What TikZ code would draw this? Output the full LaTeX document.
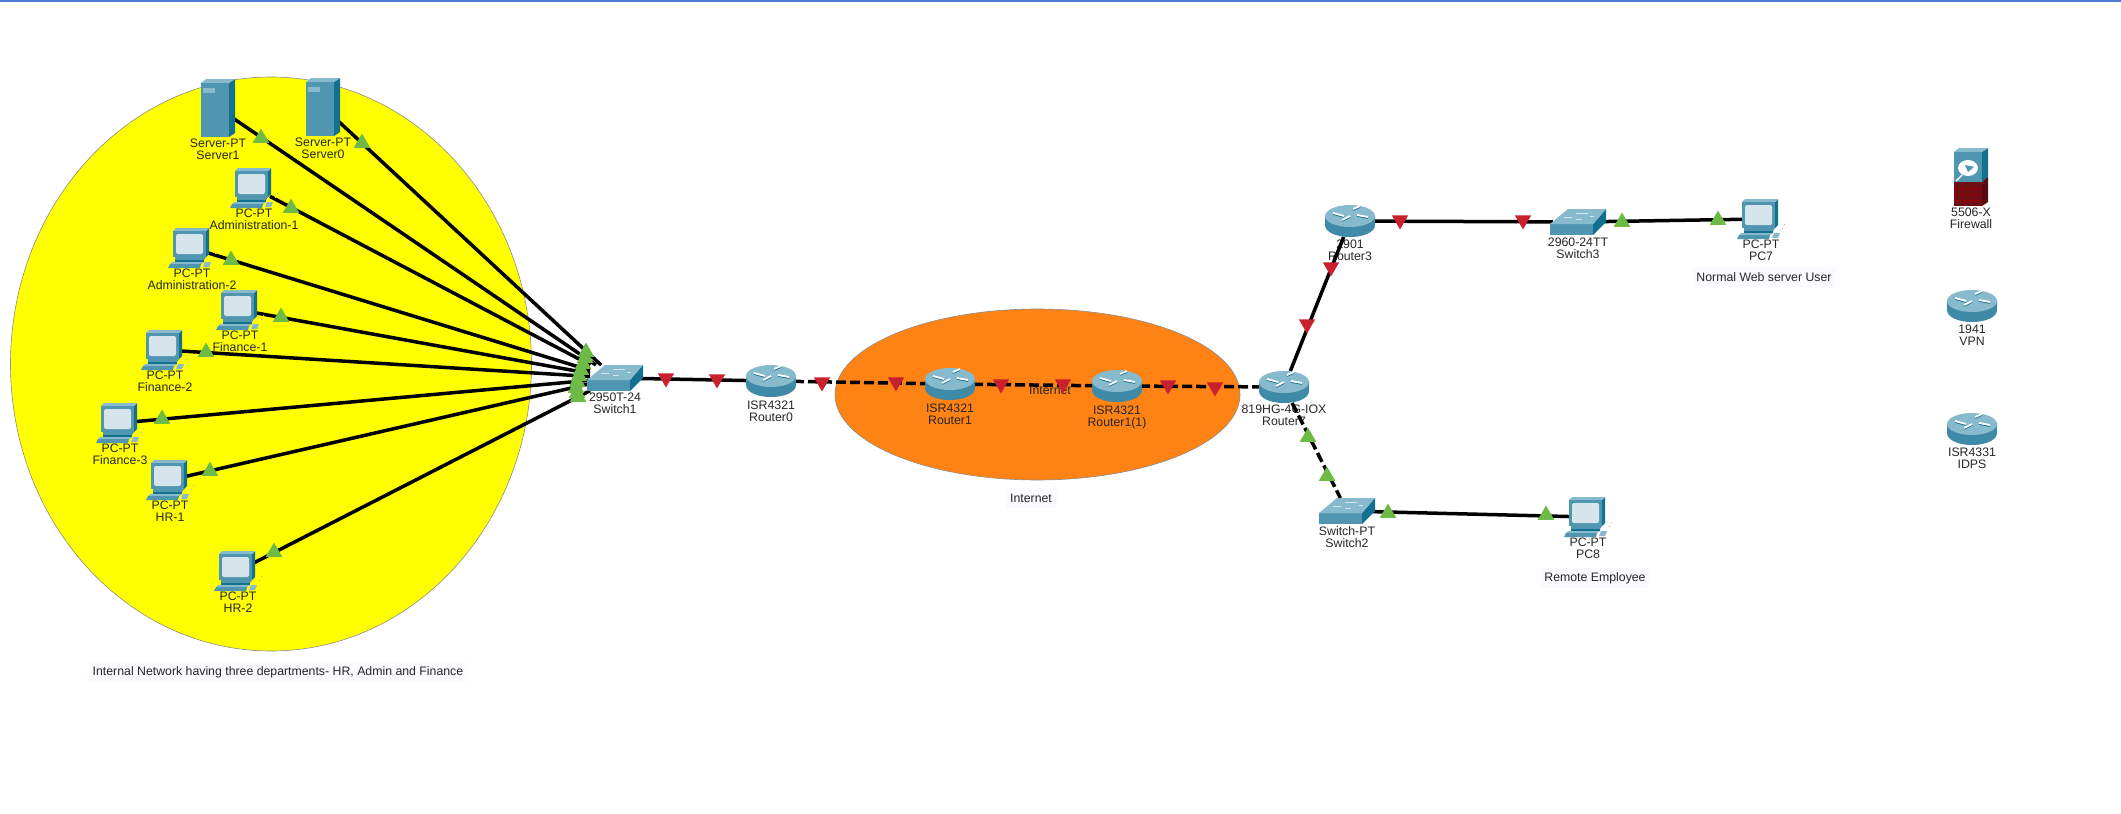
\documentclass[tikz,border=0pt]{standalone}
\usepackage{fontspec}
\setmainfont{Liberation Sans}
\usetikzlibrary{positioning, shapes.geometric}
\definecolor{zoneyellow}{HTML}{FFFF00}
\definecolor{zoneorange}{HTML}{FF8214}
\definecolor{tealface}{HTML}{5196B0}
\definecolor{tealside}{HTML}{14708F}
\definecolor{tealtop}{HTML}{86BACC}
\definecolor{tealedge}{HTML}{3F8AA6}
\definecolor{screenblue}{HTML}{D6E4EB}
\definecolor{linkgreen}{HTML}{6DBB45}
\definecolor{linkred}{HTML}{C9202F}
\definecolor{brickred}{HTML}{6E0E14}
\definecolor{topline}{HTML}{4A7BD0}
\tikzset{every picture/.style={line width=3.5pt}}
\tikzset{
  pcbox/.style={inner sep=0pt,outer sep=0pt,minimum width=32pt,minimum height=39pt},
  routerbox/.style={inner sep=0pt,outer sep=0pt,minimum width=46pt,minimum height=32pt},
  switchbox/.style={inner sep=0pt,outer sep=0pt,minimum width=50pt,minimum height=26pt},
  serverbox/.style={inner sep=0pt,outer sep=0pt,minimum width=30pt,minimum height=58pt},
  devlabel/.style={inner sep=0pt,align=center,text=black!85,font=\fontsize{12.3}{12}\selectfont},
  notebox/.style={fill=blue!2,inner sep=0pt,minimum height=20pt,text=black!85,font=\fontsize{12.3}{12}\selectfont},
  zone/.style={draw=black!45,line width=0.6pt,ellipse,inner sep=0pt},
  wire/.style={draw=black},
  dashwire/.style={draw=black,dash pattern=on 10pt off 4pt},
  greenmark/.style={regular polygon,regular polygon sides=3,fill=linkgreen,inner sep=0pt,minimum size=19pt},
  redmark/.style={regular polygon,regular polygon sides=3,shape border rotate=180,fill=linkred,inner sep=0pt,minimum size=19pt},
  pcicon/.pic={
    \fill[tealside] (14,-17) -- (17,-20) -- (17,6) -- (14,9) -- cycle;
    \fill[tealtop] (-19,-17) -- (-16,-20) -- (17,-20) -- (14,-17) -- cycle;
    \fill[tealface] (-19,-17) rectangle (14,9);
    \fill[screenblue,rounded corners=2pt] (-16,-14) rectangle (11,6);
    \fill[tealface] (-17,9) -- (14,9) -- (12,12) -- (-17,12) -- cycle;
    \fill[tealside] (-17,12) rectangle (12,14);
    \fill[tealtop] (-20,14) -- (12,14) -- (9,16) -- (-22,16) -- cycle;
    \fill[tealface] (-24,20) -- (-22,16) -- (9,16) -- (8,20) -- cycle;
    \fill[tealtop] (13,14) -- (19,14) -- (17,19) -- (11,19) -- cycle;
    \fill[black!25] (21,9) rectangle (22,10) (23,5) rectangle (24,6);
  },
  routericon/.pic={
    \shade[left color=tealedge,middle color=white,right color=tealedge]
      (-25,-6) -- (-25,4) .. controls (-25,11) and (-14,16) .. (0,16) .. controls (14,16) and (25,11) .. (25,4) -- (25,-6) -- cycle;
    \fill[tealtop] (0,-5) ellipse [x radius=25,y radius=11];
    \draw[tealside,line width=1.6pt] (-17,-7) -- (-6,-4) (3,-11) -- (10,-14) (-8,0) -- (0,-4) (7,-5) -- (18,-3);
    \draw[white,line width=1.8pt] (-17,-8) -- (-6,-5) (3,-12) -- (10,-15) (-8,-1) -- (0,-5) (7,-6) -- (18,-4);
  },
  switchicon/.pic={
    \fill[tealface] (-28,2) rectangle (15,13);
    \fill[tealside] (15,2) -- (28,-13) -- (28,0) -- (15,13) -- cycle;
    \fill[tealtop] (-28,2) -- (-10,-13) -- (28,-13) -- (15,2) -- cycle;
    \draw[screenblue,line width=1pt] (-14,-5) -- (-6,-5) (-2,-9) -- (10,-9) (-2,-3) -- (4,-3) (12,-6) -- (16,-6);
  },
  servericon/.pic={
    \fill[tealside] (11,-25) -- (17,-29) -- (17,25) -- (11,29) -- cycle;
    \fill[tealtop] (-17,-25) -- (-12,-29) -- (17,-29) -- (11,-25) -- cycle;
    \fill[tealface] (-17,-25) rectangle (11,29);
    \fill[tealtop] (-15,-20) rectangle (-3,-15);
  },
  firewallicon/.pic={
    \fill[tealside] (11,-25) -- (17,-29) -- (17,0) -- (11,5) -- cycle;
    \fill[brickred!80!black] (11,5) -- (17,0) -- (17,25) -- (11,29) -- cycle;
    \fill[tealtop] (-17,-25) -- (-12,-29) -- (17,-29) -- (11,-25) -- cycle;
    \fill[tealface] (-17,-25) rectangle (11,5);
    \fill[brickred] (-17,5) rectangle (11,29);
    \draw[red!60!black,line width=0.8pt] (-17,11) -- (11,11) (-17,17) -- (11,17) (-17,23) -- (11,23);
    \fill[white] (-3,-9) ellipse [x radius=10,y radius=8];
    \fill[tealface] (-6,-12) -- (3,-10) -- (-3,-5) -- cycle;
    \draw[white,line width=1.4pt] (-9,-2) -- (-15,4);
  }
}

\begin{document}
\begin{tikzpicture}[x=1pt,y=-1pt]
  \useasboundingbox (0,0) rectangle (2121,814);
  \fill[topline] (0,0) rectangle (2121,1.5);
  \node[zone,fill=zoneyellow,minimum width=521pt,minimum height=574pt] (internal) at (271,364) {};
  \node[zone,fill=zoneorange,minimum width=405pt,minimum height=171pt] (cloud) at (1037.5,394.5) {};

  \node[serverbox] (server1) at (218,108) {};
  \node[serverbox] (server0) at (323,107) {};
  \node[pcbox] (admin1) at (254,188) {};
  \node[pcbox] (admin2) at (192,248) {};
  \node[pcbox] (fin1) at (240,310) {};
  \node[pcbox] (fin2) at (165,350) {};
  \node[pcbox] (fin3) at (120,423) {};
  \node[pcbox] (hr1) at (170,480) {};
  \node[pcbox] (hr2) at (238,571) {};
  \node[switchbox] (switch1) at (615,378) {};
  \node[routerbox] (router0) at (771,381) {};
  \node[routerbox] (router1) at (950,384) {};
  \node[routerbox] (router11) at (1117,386) {};
  \node[routerbox] (router7) at (1284,387) {};
  \node[routerbox] (router3) at (1350,221) {};
  \node[switchbox] (switch3) at (1578,222) {};
  \node[pcbox] (pc7) at (1761,219) {};
  \node[switchbox] (switch2) at (1347,511) {};
  \node[pcbox] (pc8) at (1588,517) {};
  \node[serverbox] (firewall) at (1971,177) {};
  \node[routerbox] (vpn) at (1972,306) {};
  \node[routerbox] (idps) at (1972,429) {};

  \node[devlabel,below=0pt of server1] (server1 text) {Server-PT\\Server1};
  \node[devlabel,below=0pt of server0] (server0 text) {Server-PT\\Server0};
  \node[devlabel,below=0pt of admin1] (admin1 text) {PC-PT\\Administration-1};
  \node[devlabel,below=0pt of admin2] (admin2 text) {PC-PT\\Administration-2};
  \node[devlabel,below=0pt of fin1] (fin1 text) {PC-PT\\Finance-1};
  \node[devlabel,below=0pt of fin2] (fin2 text) {PC-PT\\Finance-2};
  \node[devlabel,below=0pt of fin3] (fin3 text) {PC-PT\\Finance-3};
  \node[devlabel,below=0pt of hr1] (hr1 text) {PC-PT\\HR-1};
  \node[devlabel,below=0pt of hr2] (hr2 text) {PC-PT\\HR-2};
  \node[devlabel,below=0pt of switch1] (switch1 text) {2950T-24\\Switch1};
  \node[devlabel,below=2pt of router0] (router0 text) {ISR4321\\Router0};
  \node[devlabel,below=2pt of router1] (router1 text) {ISR4321\\Router1};
  \node[devlabel,below=2pt of router11] (router11 text) {ISR4321\\Router1(1)};
  \node[devlabel,below=0pt of router7] (router7 text) {819HG-4G-IOX\\Router7};
  \node[devlabel,below=1pt of router3] (router3 text) {2901\\Router3};
  \node[devlabel,below=1pt of switch3] (switch3 text) {2960-24TT\\Switch3};
  \node[devlabel,below=0pt of pc7] (pc7 text) {PC-PT\\PC7};
  \node[devlabel,below=1pt of switch2] (switch2 text) {Switch-PT\\Switch2};
  \node[devlabel,below=0pt of pc8] (pc8 text) {PC-PT\\PC8};
  \node[devlabel,below=0pt of firewall] (firewall text) {5506-X\\Firewall};
  \node[devlabel,below=1pt of vpn] (vpn text) {1941\\VPN};
  \node[devlabel,below=1pt of idps] (idps text) {ISR4331\\IDPS};
  \node[devlabel] (cloud text) at (1050,390) {Internet};
  \node[notebox,minimum width=51pt] (cloud note) at (1031,498) {Internet};
  \node[notebox,minimum width=379pt] (internal note) at (278,672) {Internal Network having three departments- HR, Admin and Finance};
  \node[notebox,minimum width=143pt] (web note) at (1764,277) {Normal Web server User};
  \node[notebox,minimum width=108pt] (remote note) at (1595,578) {Remote Employee};

  \draw[wire] (server1) -- (switch1);
  \draw[wire] (server0) -- (switch1);
  \draw[wire] (admin1) -- (switch1);
  \draw[wire] (admin2) -- (switch1);
  \draw[wire] (fin1) -- (switch1);
  \draw[wire] (fin2) -- (switch1);
  \draw[wire] (fin3) -- (switch1);
  \draw[wire] (hr1) -- (switch1);
  \draw[wire] (hr2) -- (switch1);
  \draw[wire] (switch1) -- (router0);
  \draw[dashwire] (router0) -- (router1);
  \draw[dashwire] (router1) -- (router11);
  \draw[dashwire] (router11) -- (router7);
  \draw[wire] (router7) -- (router3);
  \draw[wire] (router3) -- (switch3);
  \draw[wire] (switch3) -- (pc7);
  \draw[dashwire] (router7) -- (switch2);
  \draw[wire] (switch2) -- (pc8);

  \pic at (server1) {servericon};
  \pic at (server0) {servericon};
  \pic at (admin1) {pcicon};
  \pic at (admin2) {pcicon};
  \pic at (fin1) {pcicon};
  \pic at (fin2) {pcicon};
  \pic at (fin3) {pcicon};
  \pic at (hr1) {pcicon};
  \pic at (hr2) {pcicon};
  \pic at (switch1) {switchicon};
  \pic at (router0) {routericon};
  \pic at (router1) {routericon};
  \pic at (router11) {routericon};
  \pic at (router7) {routericon};
  \pic at (router3) {routericon};
  \pic at (switch3) {switchicon};
  \pic at (pc7) {pcicon};
  \pic at (switch2) {switchicon};
  \pic at (pc8) {pcicon};
  \pic at (firewall) {firewallicon};
  \pic at (vpn) {routericon};
  \pic at (idps) {routericon};

  \node[greenmark] (up1) at (261,138) {};
  \node[greenmark] (up2) at (362,143) {};
  \node[greenmark] (up3) at (291,208) {};
  \node[greenmark] (up4) at (231,260) {};
  \node[greenmark] (up5) at (281,317) {};
  \node[greenmark] (up6) at (206,352) {};
  \node[greenmark] (up7) at (162,419) {};
  \node[greenmark] (up8) at (210,471) {};
  \node[greenmark] (up9) at (274,552) {};
  \node[greenmark] (up10) at (586,352) {};
  \node[greenmark] (up11) at (585,358) {};
  \node[greenmark] (up12) at (583,364) {};
  \node[greenmark] (up13) at (581,370) {};
  \node[greenmark] (up14) at (579,376) {};
  \node[greenmark] (up15) at (577,382) {};
  \node[greenmark] (up16) at (576,388) {};
  \node[greenmark] (up17) at (577,393) {};
  \node[greenmark] (up18) at (578,397) {};
  \node[greenmark] (up19) at (1622,222) {};
  \node[greenmark] (up20) at (1718,220) {};
  \node[greenmark] (up21) at (1388,513) {};
  \node[greenmark] (up22) at (1546,515) {};
  \node[greenmark] (up23) at (1308,437) {};
  \node[greenmark] (up24) at (1327,476) {};
  \node[redmark] (down1) at (666,378) {};
  \node[redmark] (down2) at (717,379) {};
  \node[redmark] (down3) at (822,382) {};
  \node[redmark] (down4) at (896,382) {};
  \node[redmark] (down5) at (1001,384) {};
  \node[redmark] (down6) at (1063,384) {};
  \node[redmark] (down7) at (1168,385) {};
  \node[redmark] (down8) at (1215,387) {};
  \node[redmark] (down9) at (1400,220) {};
  \node[redmark] (down10) at (1523,220) {};
  \node[redmark] (down11) at (1331,267) {};
  \node[redmark] (down12) at (1307,324) {};
\end{tikzpicture}
\end{document}
